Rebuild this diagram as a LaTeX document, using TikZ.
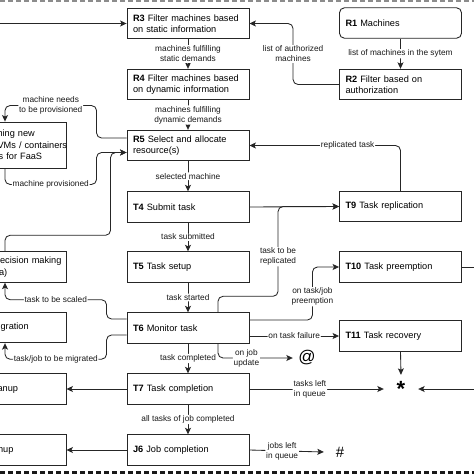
\documentclass[tikz,border=0pt]{standalone}
\usepackage{fontspec}
\setmainfont{Liberation Sans}
\usetikzlibrary{arrows.meta}
\begin{document}
\begin{tikzpicture}[x=1pt,y=-1pt,
  box/.style={draw=black!85, line width=0.9pt, text width=110pt, inner xsep=6pt, inner ysep=2pt, align=left, minimum height=30.5pt, font=\fontsize{9.2}{11.5}\selectfont},
  conn/.style={draw=black!85, line width=0.85pt, rounded corners=5pt},
  arr/.style={conn, -{Stealth[length=6.5pt,width=6pt,inset=1.5pt]}},
  lbl/.style={fill=white, inner sep=0.8pt, align=center, font=\fontsize{8.3}{10}\selectfont, text=black!90},
  sym/.style={inner sep=0pt, font=\fontsize{17}{17}\selectfont},
]
\useasboundingbox (0,0) rectangle (474,474);
\clip (0,0) rectangle (474,474);
\fill[white] (0,0) rectangle (474,474);

% dashed borders
\draw[black!45, line width=2.5pt, dash pattern=on 5pt off 3pt] (0,1.2) -- (474,1.2);
\draw[black!90, line width=2.8pt, dash pattern=on 5pt off 3pt] (0,472.6) -- (474,472.6);

% centre column
\node[box] (R3) at (188,23.5) {\textbf{R3} Filter machines based\\on static information};
\node[box] (R4) at (188,84.5) {\textbf{R4} Filter machines based\\on dynamic information};
\node[box] (R5) at (188,145.5) {\textbf{R5} Select and allocate\\resource(s)};
\node[box] (T4) at (188,207) {\textbf{T4} Submit task};
\node[box] (T5) at (188,267) {\textbf{T5} Task setup};
\node[box] (T6) at (188,328) {\textbf{T6} Monitor task};
\node[box] (T7) at (188,389) {\textbf{T7} Task completion};
\node[box] (J6) at (188,450) {\textbf{J6} Job completion};

% right column
\node[box, rounded corners=5pt] (R1) at (400.5,23) {\textbf{R1} Machines};
\node[box] (R2) at (400.5,84.5) {\textbf{R2} Filter based on\\authorization};
\node[box] (T9) at (400.5,206.5) {\textbf{T9} Task replication};
\node[box] (T10) at (400.5,267) {\textbf{T10} Task preemption};
\node[box] (T11) at (400.5,336) {\textbf{T11} Task recovery};

% left column (cut by the frame)
\node[box, minimum height=46pt] (prov) at (5,145) {\mbox{\textbf{R6} Provisioning new}\\\mbox{resources: VMs / containers}\\\mbox{\kern-4pt and instances for FaaS}};
\node[box] (dec) at (5,267) {\mbox{\textbf{T12} Scale decision making}\\\mbox{\kern3pt(tasks / data)}};
\node[box] (mig) at (5,327.5) {\mbox{\textbf{T13} Task migration}};
\node[box] (tcl) at (5,389) {\mbox{\textbf{T8} Task cleanup}};
\node[box] (jcl) at (5,450) {\mbox{\textbf{J7} Job cleanup}};

% symbols
\node[sym, minimum width=34pt, minimum height=28pt, font=\fontsize{22}{22}\selectfont] (star) at (401,389) {\raisebox{-0.42em}{\textbf{*}}};
\node[sym, minimum width=28pt, minimum height=16pt] (upd) at (307,358) {@};
\node[sym, minimum width=32pt, minimum height=16pt, font=\fontsize{15}{15}\selectfont] (hsh) at (340,452) {\#};

% free ends
\coordinate (inR3) at (-5,23.5);
\coordinate (outT10) at (480,267);
\coordinate (inStar) at (480,389);

% connectors, centre and right
\draw[arr] (inR3) -- (R3.west);
\draw[arr] (R1) -- node[lbl]{list of machines in the sytem} (R2);
\draw[arr] (R2.west) -- ++(-46,0) |- node[lbl,pos=0.25]{list of authorized\\machines} (R3.east);
\draw[arr] (R3) -- node[lbl]{machines fulfilling\\static demands} (R4);
\draw[arr] (R4) -- node[lbl]{machines fulfilling\\dynamic demands} (R5);
\draw[arr] (R5) -- node[lbl]{selected machine} (T4);
\draw[arr] (T4) -- node[lbl]{task submitted} (T5);
\draw[arr] (T5) -- node[lbl]{task started} (T6);
\draw[arr] (T6) -- node[lbl]{task completed} (T7);
\draw[arr] (T7) -- node[lbl]{all tasks of job completed} (J6);
\draw[arr] (T9.north) |- node[lbl,pos=0.675]{replicated task} (R5.east);
\draw[arr] (T4.east) -- (T9.west);
\draw[arr] ([xshift=30pt]T6.north) -- ++(0,-16) -| node[lbl,pos=0.72]{task to be\\replicated} ([xshift=-61pt]T9.west) -- (T9.west);
\draw[arr] ([yshift=8pt]T6.east) -- ++(63,0) |- node[lbl,pos=0.22]{on task/job\\preemption} (T10.west);
\draw[arr] ([yshift=-8pt]T6.east) -- node[lbl]{on task failure} (T11.west);
\draw[arr] ([xshift=30pt]T6.south) |- node[lbl,pos=0.69]{on job\\update} (upd.west);
\draw[arr] (T11.south) -- (star.north);
\draw[arr] (T7.east) -- node[lbl,pos=0.45]{tasks left\\in queue} (star.west);
\draw[arr] (inStar) -- (star.east);
\draw[conn] (T10.east) -- (outT10);
\draw[arr] (J6.east) -- node[lbl,pos=0.44]{jobs left\\in queue} (hsh.west);

% connectors, left
\draw[arr] ([yshift=7.5pt]R5.west) -- ++(-30,0) |- node[lbl,pos=0.75]{machine needs\\to be provisioned} ([yshift=16pt]prov.north) -- (prov.north);
\draw[arr] (prov.south) -- ++(0,16) -| node[lbl,pos=0.25]{machine provisioned} ([xshift=-30pt,yshift=-7pt]R5.west) -- ([yshift=-7pt]R5.west);
\draw[arr] (dec.north) -- ++(0,-16) -| ([xshift=-16pt,yshift=-7pt]R5.west) -- ([yshift=-7pt]R5.west);
\draw[arr] ([yshift=9pt]T6.west) -- ++(-20,0) |- node[lbl,pos=0.75]{task to be scaled} ([yshift=-17pt]dec.south) -- (dec.south);
\draw[arr] ([yshift=-7pt]T6.west) -- ++(-20,0) |- node[lbl,pos=0.75]{task/job to be migrated} ([yshift=-16pt]mig.south) -- (mig.south);
\draw[arr] (T7.west) -- (tcl.east);
\draw[arr] (J6.west) -- (jcl.east);
\end{tikzpicture}
\end{document}
